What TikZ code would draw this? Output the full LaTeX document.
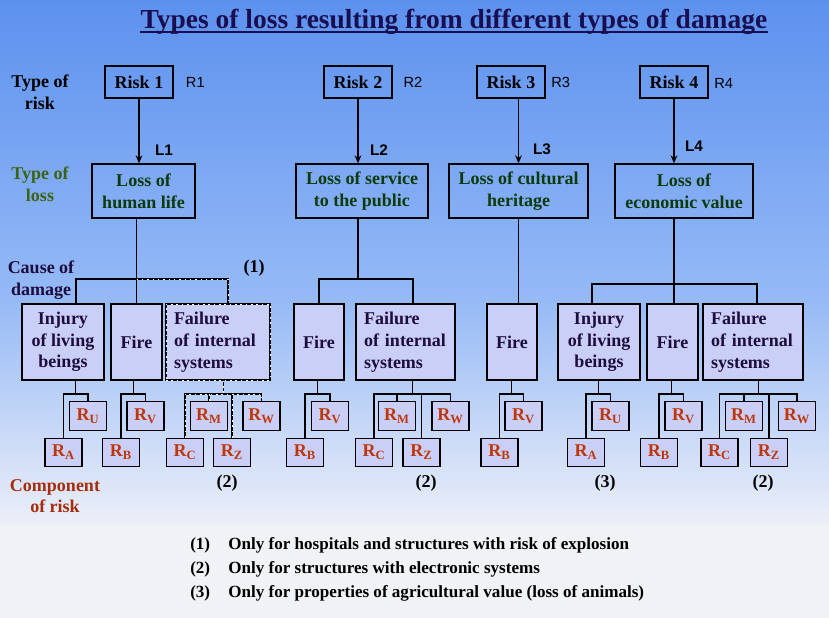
\documentclass[tikz,border=0pt]{standalone}
\usepackage{fontspec}
\setmainfont{Liberation Serif}
\newfontfamily\arialfont{Liberation Sans}
\usepackage{tikz}
\usetikzlibrary{arrows.meta}
\usetikzlibrary{calc}
\usetikzlibrary{positioning}

\definecolor{titleblue}{RGB}{25,15,80}
\definecolor{causeink}{RGB}{30,12,62}
\definecolor{lossink}{RGB}{12,58,12}
\definecolor{losslabel}{RGB}{58,100,18}
\definecolor{compink}{RGB}{190,55,12}
\definecolor{complabel}{RGB}{165,45,12}
\definecolor{boxfill}{RGB}{202,207,248}
\definecolor{skytop}{RGB}{92,145,238}
\definecolor{skymid}{RGB}{150,186,246}
\definecolor{skylow}{RGB}{236,239,248}
\definecolor{paper}{RGB}{241,242,246}

\begin{document}
\begin{tikzpicture}
  [
    x = 0.75pt, y = -0.75pt,
    every node/.style = {font = \fontsize{13.5}{16.3}\selectfont\bfseries},
    box/.style = {draw, line width = 1pt, inner sep = 2pt, align = center},
    riskbox/.style = {box, minimum width = 51pt, minimum height = 24pt},
    lossbox/.style = {box, text = lossink, minimum height = 40.5pt},
    cause/.style = {box, fill = boxfill, text = causeink, minimum height = 57pt},
    failbox/.style = {cause, align = left, inner xsep = 6pt},
    comp/.style = {box, fill = boxfill, text = compink, inner sep = 1pt,
                   minimum width = 27.75pt, minimum height = 21.4pt},
    rowlabel/.style = {align = center},
    rlab/.style = {inner sep = 0pt, font = \arialfont\fontsize{11}{13}\selectfont},
    llab/.style = {inner sep = 0pt, font = \arialfont\fontsize{11.5}{13}\selectfont\bfseries},
    note/.style = {inner sep = 0pt, anchor = base west,
                   font = \fontsize{12.8}{15}\selectfont\bfseries},
    arrow/.style = {-{Stealth[length = 6pt, width = 5pt]}, line width = 1.3pt},
    link/.style = {line width = 0.8pt},
    optional/.style = {postaction = {draw, white, line width = 0.7pt,
                       dash pattern = on 1.2pt off 2.8pt}},
  ]

  \useasboundingbox (0,0) rectangle (829,618);
  \shade[top color = skytop, bottom color = skymid] (0,0) rectangle (829,300);
  \shade[top color = skymid, bottom color = skylow] (0,300) rectangle (829,525);
  \fill[paper] (0,525) rectangle (829,618);

  % title
  \node[anchor = base, inner sep = 0pt, text = titleblue,
        font = \fontsize{20.6}{24}\selectfont\bfseries] (title) at (454,28)
    {Types of loss resulting from different types of damage};
  \draw[titleblue, line width = 1.6pt]
    ([yshift = -3pt]title.base west) -- ([yshift = -3pt]title.base east);

  % row labels
  \node[rowlabel] (typerisk) at (40,92) {Type of\\risk};
  \node[rowlabel, text = losslabel] (typeloss) at (40,184) {Type of\\loss};
  \node[rowlabel, text = causeink] (causedmg) at (41,280) {Cause of\\damage};
  \node[rowlabel, text = complabel] (comprisk) at (55,496) {Component\\of risk};

  % risks
  \node[riskbox] (risk1) at (139,82) {Risk 1};
  \node[rlab, right = 9pt of risk1] (r1) {R1};
  \node[riskbox] (risk2) at (358,82) {Risk 2};
  \node[rlab, right = 8pt of risk2] (r2) {R2};
  \node[riskbox] (risk3) at (511,82) {Risk 3};
  \node[rlab, right = 4pt of risk3] (r3) {R3};
  \node[riskbox] (risk4) at (674,82) {Risk 4};
  \node[rlab, right = 4pt of risk4, yshift = -1pt] (r4) {R4};

  % losses
  \node[lossbox, minimum width = 77.25pt] (loss1) at (143.5,191) {Loss of\\human life};
  \node[lossbox, minimum width = 99pt] (loss2) at (362,191) {Loss of service\\to the public};
  \node[lossbox, minimum width = 104.25pt] (loss3) at (518.5,191) {Loss of cultural\\heritage};
  \node[lossbox, minimum width = 103.5pt] (loss4) at (684,191) {Loss of\\economic value};

  \draw[arrow] (risk1.south) -- (risk1.south |- loss1.north);
  \draw[arrow] (risk2.south) -- (risk2.south |- loss2.north);
  \draw[arrow] (loss3.north |- risk3.south) -- (loss3.north);
  \draw[arrow] (risk4.south) -- (risk4.south |- loss4.north);

  \node[llab] (l1) at (164,150) {L1};
  \node[llab] (l2) at (379,150) {L2};
  \node[llab] (l3) at (542,149) {L3};
  \node[llab] (l4) at (694,146) {L4};

  % causes of damage
  \node[cause, minimum width = 61.5pt] (inj1) at (63,342) {Injury\\of living\\beings};
  \node[cause, minimum width = 38.25pt] (fire1) at (136.5,342) {Fire};
  \node[failbox, optional, text width = 66pt] (fail1) at (218,342) {Failure\\of internal\\systems};
  \node[cause, minimum width = 37.5pt] (fire2) at (319,342) {Fire};
  \node[failbox, text width = 62.25pt] (fail2) at (405.5,342) {Failure\\of internal\\systems};
  \node[cause, minimum width = 37.5pt] (fire3) at (512,342) {Fire};
  \node[cause, minimum width = 61.5pt] (inj4) at (599,342) {Injury\\of living\\beings};
  \node[cause, minimum width = 38.25pt] (fire4) at (672.5,342) {Fire};
  \node[failbox, text width = 63pt] (fail4) at (753,342) {Failure\\of internal\\systems};

  \node (mark1) at (254,268) {(1)};

  \coordinate (t1a) at (76,279);
  \coordinate (t1c) at (228,279);
  \coordinate (t2b) at (413,279);
  \coordinate (t4a) at (592,284);
  \coordinate (t4c) at (757,284);
  \coordinate (lowbar) at (0,394);

  \draw[link] (fire1.north |- loss1.south) -- (fire1.north);
  \draw[link] (t1a |- inj1.north) -- (t1a) -- (fire1.north |- t1a);
  \draw[link, optional] (fire1.north |- t1a) -- (t1c) -- (t1c |- fail1.north);
  \draw[link] (risk2.south |- loss2.south) -- (risk2.south |- t2b);
  \draw[link] (fire2.north) |- (t2b) -- (t2b |- fail2.north);
  \draw[link] (loss3.south) -- (loss3.south |- fire3.north);
  \draw[link] (risk4.south |- loss4.south) -- (risk4.south |- fire4.north);
  \draw[link] (t4a |- inj4.north) -- (t4a) -- (t4c) -- (t4c |- fail4.north);

  % components of risk
  \node[comp] (ru1) at (88,416) {R\textsubscript{U}};
  \node[comp] (ra1) at (63.5,452.5) {R\textsubscript{A}};
  \node[comp] (rv1) at (145.5,416) {R\textsubscript{V}};
  \node[comp] (rb1) at (121,452.5) {R\textsubscript{B}};
  \node[comp] (rm1) at (209,416) {R\textsubscript{M}};
  \node[comp] (rw1) at (261.5,416) {R\textsubscript{W}};
  \node[comp] (rc1) at (185,452.5) {R\textsubscript{C}};
  \node[comp] (rz1) at (232,452.5) {R\textsubscript{Z}};

  \node[comp] (rv2) at (330,416) {R\textsubscript{V}};
  \node[comp] (rb2) at (305,452.5) {R\textsubscript{B}};
  \node[comp] (rm2) at (397,416) {R\textsubscript{M}};
  \node[comp] (rw2) at (450.5,416) {R\textsubscript{W}};
  \node[comp] (rc2) at (374,452.5) {R\textsubscript{C}};
  \node[comp] (rz2) at (421.5,452.5) {R\textsubscript{Z}};

  \node[comp] (rv3) at (523.5,416) {R\textsubscript{V}};
  \node[comp] (rb3) at (499.5,452.5) {R\textsubscript{B}};

  \node[comp] (ru4) at (610.5,416) {R\textsubscript{U}};
  \node[comp] (ra4) at (586,452.5) {R\textsubscript{A}};
  \node[comp] (rv4) at (683.5,416) {R\textsubscript{V}};
  \node[comp] (rb4) at (659,452.5) {R\textsubscript{B}};
  \node[comp] (rm4) at (744,416) {R\textsubscript{M}};
  \node[comp] (rw4) at (797,416) {R\textsubscript{W}};
  \node[comp] (rc4) at (719.5,452.5) {R\textsubscript{C}};
  \node[comp] (rz4) at (769,452.5) {R\textsubscript{Z}};

  \coordinate (b1a) at ($(ra1.north)!.5!(ru1.north)$);
  \coordinate (b1b) at ($(rb1.north)!.5!(rv1.north)$);
  \coordinate (b1c) at ($(rc1.north)!.5!(rw1.north)$);
  \coordinate (b2b) at ($(rb2.north)!.5!(rv2.north)$);
  \coordinate (b2c) at ($(rc2.north)!.5!(rw2.north)$);
  \coordinate (b3b) at ($(rb3.north)!.5!(rv3.north)$);
  \coordinate (b4a) at ($(ra4.north)!.5!(ru4.north)$);
  \coordinate (b4b) at ($(rb4.north)!.5!(rv4.north)$);
  \coordinate (b4c) at ($(rc4.north)!.5!(rw4.north)$);

  \draw[link] (b1a |- inj1.south) -- (b1a |- lowbar);
  \draw[link] (ra1.north) -- (ra1.north |- lowbar) -- (ru1.north |- lowbar) -- (ru1.north);
  \draw[link] (b1b |- fire1.south) -- (b1b |- lowbar);
  \draw[link] (rb1.north) -- (rb1.north |- lowbar) -- (rv1.north |- lowbar) -- (rv1.north);
  \draw[link, optional] (b1c |- fail1.south) -- (b1c |- lowbar);
  \draw[link, optional] (rc1.north) -- (rc1.north |- lowbar) -- (rw1.north |- lowbar) -- (rw1.north);
  \draw[link, optional] (rm1.north) -- (rm1.north |- lowbar);
  \draw[link, optional] (rz1.north) -- (rz1.north |- lowbar);

  \draw[link] (b2b |- fire2.south) -- (b2b |- lowbar);
  \draw[link] (rb2.north) -- (rb2.north |- lowbar) -- (rv2.north |- lowbar) -- (rv2.north);
  \draw[link] (b2c |- fail2.south) -- (b2c |- lowbar);
  \draw[link] (rc2.north) -- (rc2.north |- lowbar) -- (rw2.north |- lowbar) -- (rw2.north);
  \draw[link] (rm2.north) -- (rm2.north |- lowbar);
  \draw[link] (rz2.north) -- (rz2.north |- lowbar);

  \draw[link] (b3b |- fire3.south) -- (b3b |- lowbar);
  \draw[link] (rb3.north) -- (rb3.north |- lowbar) -- (rv3.north |- lowbar) -- (rv3.north);

  \draw[link] (b4a |- inj4.south) -- (b4a |- lowbar);
  \draw[link] (ra4.north) -- (ra4.north |- lowbar) -- (ru4.north |- lowbar) -- (ru4.north);
  \draw[link] (b4b |- fire4.south) -- (b4b |- lowbar);
  \draw[link] (rb4.north) -- (rb4.north |- lowbar) -- (rv4.north |- lowbar) -- (rv4.north);
  \draw[link] (b4c |- fail4.south) -- (b4c |- lowbar);
  \draw[link] (rc4.north) -- (rc4.north |- lowbar) -- (rw4.north |- lowbar) -- (rw4.north);
  \draw[link] (rm4.north) -- (rm4.north |- lowbar);
  \draw[link] (rz4.north) -- (rz4.north |- lowbar);

  \node (mark2a) at (227,483) {(2)};
  \node (mark2b) at (426,483) {(2)};
  \node (mark3) at (605,483) {(3)};
  \node (mark2c) at (763,483) {(2)};

  % notes
  \node[note] (note1) at (190,549)
    {\makebox[28.5pt][l]{(1)}Only for hospitals and structures with risk of explosion};
  \node[note] (note2) at (190,573)
    {\makebox[28.5pt][l]{(2)}Only for structures with electronic systems};
  \node[note] (note3) at (190,597)
    {\makebox[28.5pt][l]{(3)}Only for properties of agricultural value (loss of animals)};

\end{tikzpicture}
\end{document}
